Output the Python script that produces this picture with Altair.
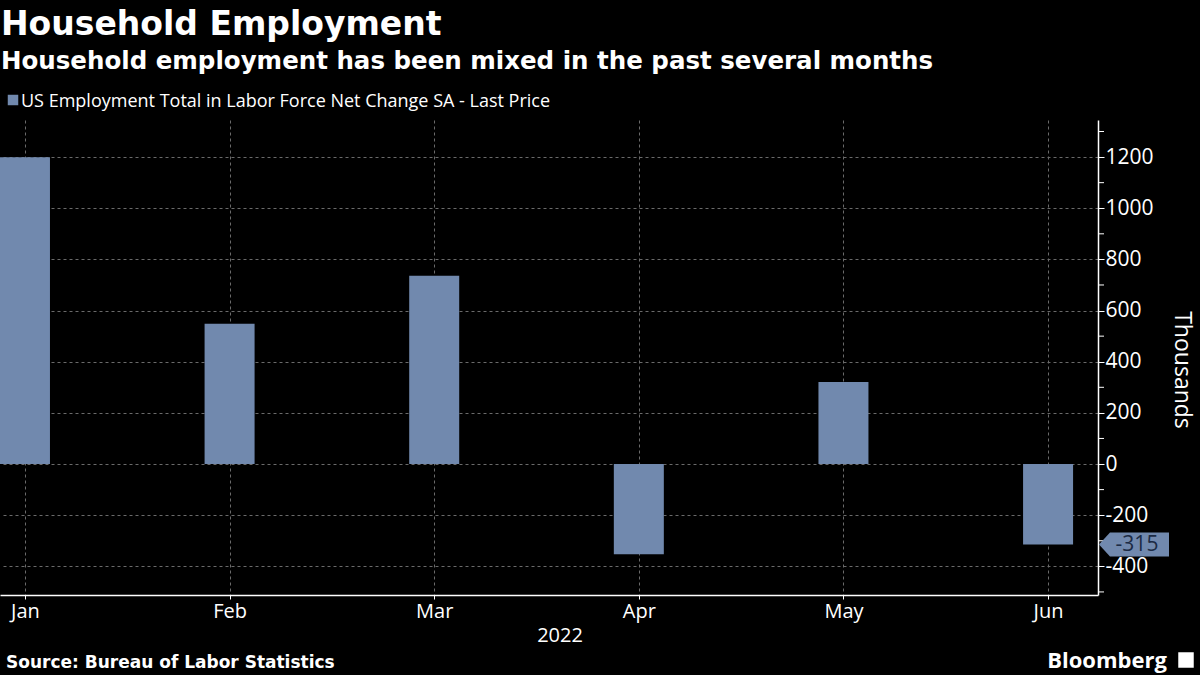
import altair as alt
import pandas as pd

# Monthly net change in household-survey employment, thousands (2022)
months = ["Jan", "Feb", "Mar", "Apr", "May", "Jun"]
values = [1199, 548, 736, -353, 321, -315]
y_ticks = [-400, -200, 0, 200, 400, 600, 800, 1000, 1200]
minor_ticks = [-500, -300, -100, 100, 300, 500, 700, 900, 1100, 1300]

BAR = "#7189ae"
GRID = "#6a6a6a"
FONT = "Open Sans"
HEAD = "DejaVu Sans"

df = pd.DataFrame({"idx": list(range(len(months))), "month": months, "value": values})
last = pd.DataFrame({"value": [values[-1]], "label": [str(values[-1])]})
minor_df = pd.DataFrame({"value": minor_ticks})

x_scale = alt.Scale(domain=[-0.122, 5.244], nice=False, zero=False, padding=0)
y_scale = alt.Scale(domain=[-512, 1345], nice=False, zero=False, padding=0)

x_axis = alt.Axis(
    values=list(range(len(months))),
    labelExpr="['Jan','Feb','Mar','Apr','May','Jun'][datum.value]",
    title=None, grid=True, gridColor=GRID, gridDash=[3, 3], gridWidth=1,
    domainColor="white", domainWidth=1.5, tickColor="white", tickSize=4,
    labelColor="white", labelFontSize=20, labelFont=FONT, labelPadding=2,
)
y_axis = alt.Axis(
    orient="right", values=y_ticks, labelExpr="toString(datum.value)",
    title=None, grid=True, gridColor=GRID, gridDash=[3, 3], gridWidth=1,
    domainColor="white", domainWidth=1.5, tickColor="white", tickSize=6,
    labelColor="white", labelFontSize=21, labelFont=FONT, labelPadding=1,
    labelBaseline="middle",
)
Y = alt.Y("value:Q", scale=y_scale, axis=y_axis)

bars = alt.Chart(df).mark_bar(color=BAR, size=50).encode(
    x=alt.X("idx:Q", scale=x_scale, axis=x_axis),
    y=Y,
    y2=alt.datum(0),
)

# half-step ticks on the value axis
minor = alt.Chart(minor_df).mark_rule(color="white", strokeWidth=1).encode(
    y=Y, x=alt.value(1098), x2=alt.value(1104),
)

# last-value tag on the right axis
tag = alt.Chart(last).mark_point(
    shape="M -1 0 L -0.686 -0.343 L 1 -0.343 L 1 0.343 L -0.686 0.343 Z",
    size=4900, filled=True, opacity=1, color=BAR, strokeWidth=0,
).encode(y=Y, x=alt.value(1134))
tag_text = alt.Chart(last).mark_text(
    font=FONT, fontSize=21, color="#1c2b45", align="center", baseline="middle", dx=3,
).encode(y=Y, x=alt.value(1134), text="label:N")


def label(text, x, y, size, weight="normal", align="left", angle=0,
          font=FONT, baseline="alphabetic"):
    return alt.Chart(pd.DataFrame({"t": [text]})).mark_text(
        font=font, fontSize=size, fontWeight=weight, color="white",
        align=align, baseline=baseline, angle=angle,
    ).encode(x=alt.value(x), y=alt.value(y), text="t:N")


texts = [
    label("Household Employment", 1, -85, 33, "bold", font=HEAD),
    label("Household employment has been mixed in the past several months", 1, -51, 24.5, "bold", font=HEAD),
    label("US Employment Total in Labor Force Net Change SA - Last Price", 21, -13, 18),
    label("2022", 560, 522, 20, align="center"),
    label("Source: Bureau of Labor Statistics", 6, 548, 17, "bold", font=HEAD),
    label("Bloomberg", 1107, 548, 22, "bold", align="center"),
    label("Thousands", 1182, 250, 23, align="center", angle=90, baseline="middle"),
]

legend_swatch = alt.Chart(pd.DataFrame({"a": [0]})).mark_square(
    color=BAR, size=110, filled=True, opacity=1
).encode(x=alt.value(13), y=alt.value(-20))

logo = alt.Chart(pd.DataFrame({"a": [0]})).mark_square(
    color="white", size=240, filled=True, opacity=1, cornerRadius=2
).encode(x=alt.value(1186), y=alt.value(540))

chart = alt.layer(bars, minor, tag, tag_text, legend_swatch, logo, *texts).properties(
    width=1098, height=475,
    background="black",
    padding={"left": 0, "top": 120, "right": 102, "bottom": 80},
    autosize=alt.AutoSizeParams(type="none"),
).configure_view(stroke=None)

chart.save("out.html", embed_options={"renderer": "svg", "actions": False})
